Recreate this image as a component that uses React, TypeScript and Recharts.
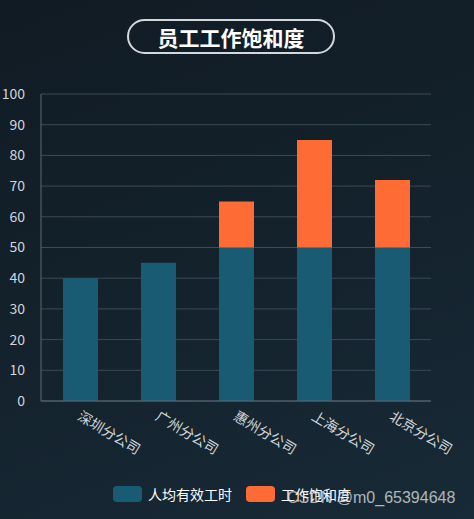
import React from 'react';
import { BarChart, Bar, XAxis, YAxis, CartesianGrid, Legend } from 'recharts';

// branch offices
const offices = ['深圳分公司', '广州分公司', '惠州分公司', '上海分公司', '北京分公司'];
// effective hours per person (blue, bottom)
const effectiveHours = [40, 45, 50, 50, 50];
// extra saturation stacked on top (orange)
const saturation = [0, 0, 15, 35, 22];
const yTicks = [0, 10, 20, 30, 40, 50, 60, 70, 80, 90, 100];

const BLUE = '#1a5b74';
const ORANGE = '#ff6b35';
const CJK = '"Noto Sans CJK SC", "Noto Sans", sans-serif';

const chartData = offices.map((name, i) => ({
  name,
  hours: effectiveHours[i],
  saturation: saturation[i],
}));

const XTick = ({ x, y, payload }: any) => (
  <text
    x={x + 3}
    y={y - 1}
    transform={`rotate(31, ${x + 3}, ${y - 1})`}
    textAnchor="start"
    dominantBaseline="hanging"
    fill="#d0d6db"
    fontSize={14}
    fontFamily={CJK}
  >
    {payload.value}
  </text>
);

const LegendContent = () => {
  const items = [
    { label: '人均有效工时', color: BLUE },
    { label: '工作饱和度', color: ORANGE },
  ];
  return (
    <div style={{ display: 'flex', justifyContent: 'center', alignItems: 'center', height: 30, paddingRight: 10 }}>
      {items.map((it) => (
        <div key={it.label} style={{ display: 'flex', alignItems: 'center', margin: '0 7px' }}>
          <span
            style={{
              display: 'inline-block',
              width: 29,
              height: 16,
              borderRadius: 4,
              background: it.color,
              marginRight: 6,
            }}
          />
          <span style={{ color: '#ffffff', fontSize: 14, fontFamily: CJK }}>{it.label}</span>
        </div>
      ))}
    </div>
  );
};

const App = () => {
  return (
    <div
      style={{
        position: 'relative',
        width: 474,
        height: 519,
        background: 'linear-gradient(160deg, #111b24 0%, #13212b 45%, #182a37 100%)',
        overflow: 'hidden',
      }}
    >
      <style>{`body{margin:0}`}</style>
      <div
        style={{
          position: 'absolute',
          left: 127,
          top: 19,
          width: 204,
          height: 31,
          border: '2px solid #d2d8dd',
          borderRadius: 18,
          display: 'flex',
          alignItems: 'center',
          justifyContent: 'center',
          color: '#ffffff',
          fontSize: 21,
          fontWeight: 700,
          fontFamily: CJK,
        }}
      >
        员工工作饱和度
      </div>
      <BarChart
        width={474}
        height={519}
        data={chartData}
        margin={{ top: 94, right: 43, bottom: 10, left: 0 }}
      >
        <CartesianGrid vertical={false} stroke="#3b4b57" strokeWidth={1} />
        <XAxis
          dataKey="name"
          height={78}
          tick={<XTick />}
          tickLine={false}
          axisLine={{ stroke: '#5a6a76' }}
          interval={0}
        />
        <YAxis
          width={41}
          domain={[0, 100]}
          ticks={yTicks}
          tickLine={false}
          axisLine={{ stroke: '#5a6a76' }}
          tickMargin={10}
          tick={{ fill: '#d0d6db', fontSize: 14, fontFamily: CJK }}
        />
        <Legend
          verticalAlign="bottom"
          align="center"
          wrapperStyle={{ left: 0, width: 474 }}
          content={<LegendContent />}
        />
        <Bar dataKey="hours" name="人均有效工时" stackId="a" fill={BLUE} barSize={35} isAnimationActive={false} />
        <Bar dataKey="saturation" name="工作饱和度" stackId="a" fill={ORANGE} barSize={35} isAnimationActive={false} />
      </BarChart>
      <div
        style={{
          position: 'absolute',
          left: 287,
          top: 489,
          color: 'rgba(225,230,234,0.75)',
          fontSize: 16,
          fontFamily: '"Liberation Sans", Arial, sans-serif',
          pointerEvents: 'none',
        }}
      >
        CSDN @m0_65394648
      </div>
    </div>
  );
};

export default App;
